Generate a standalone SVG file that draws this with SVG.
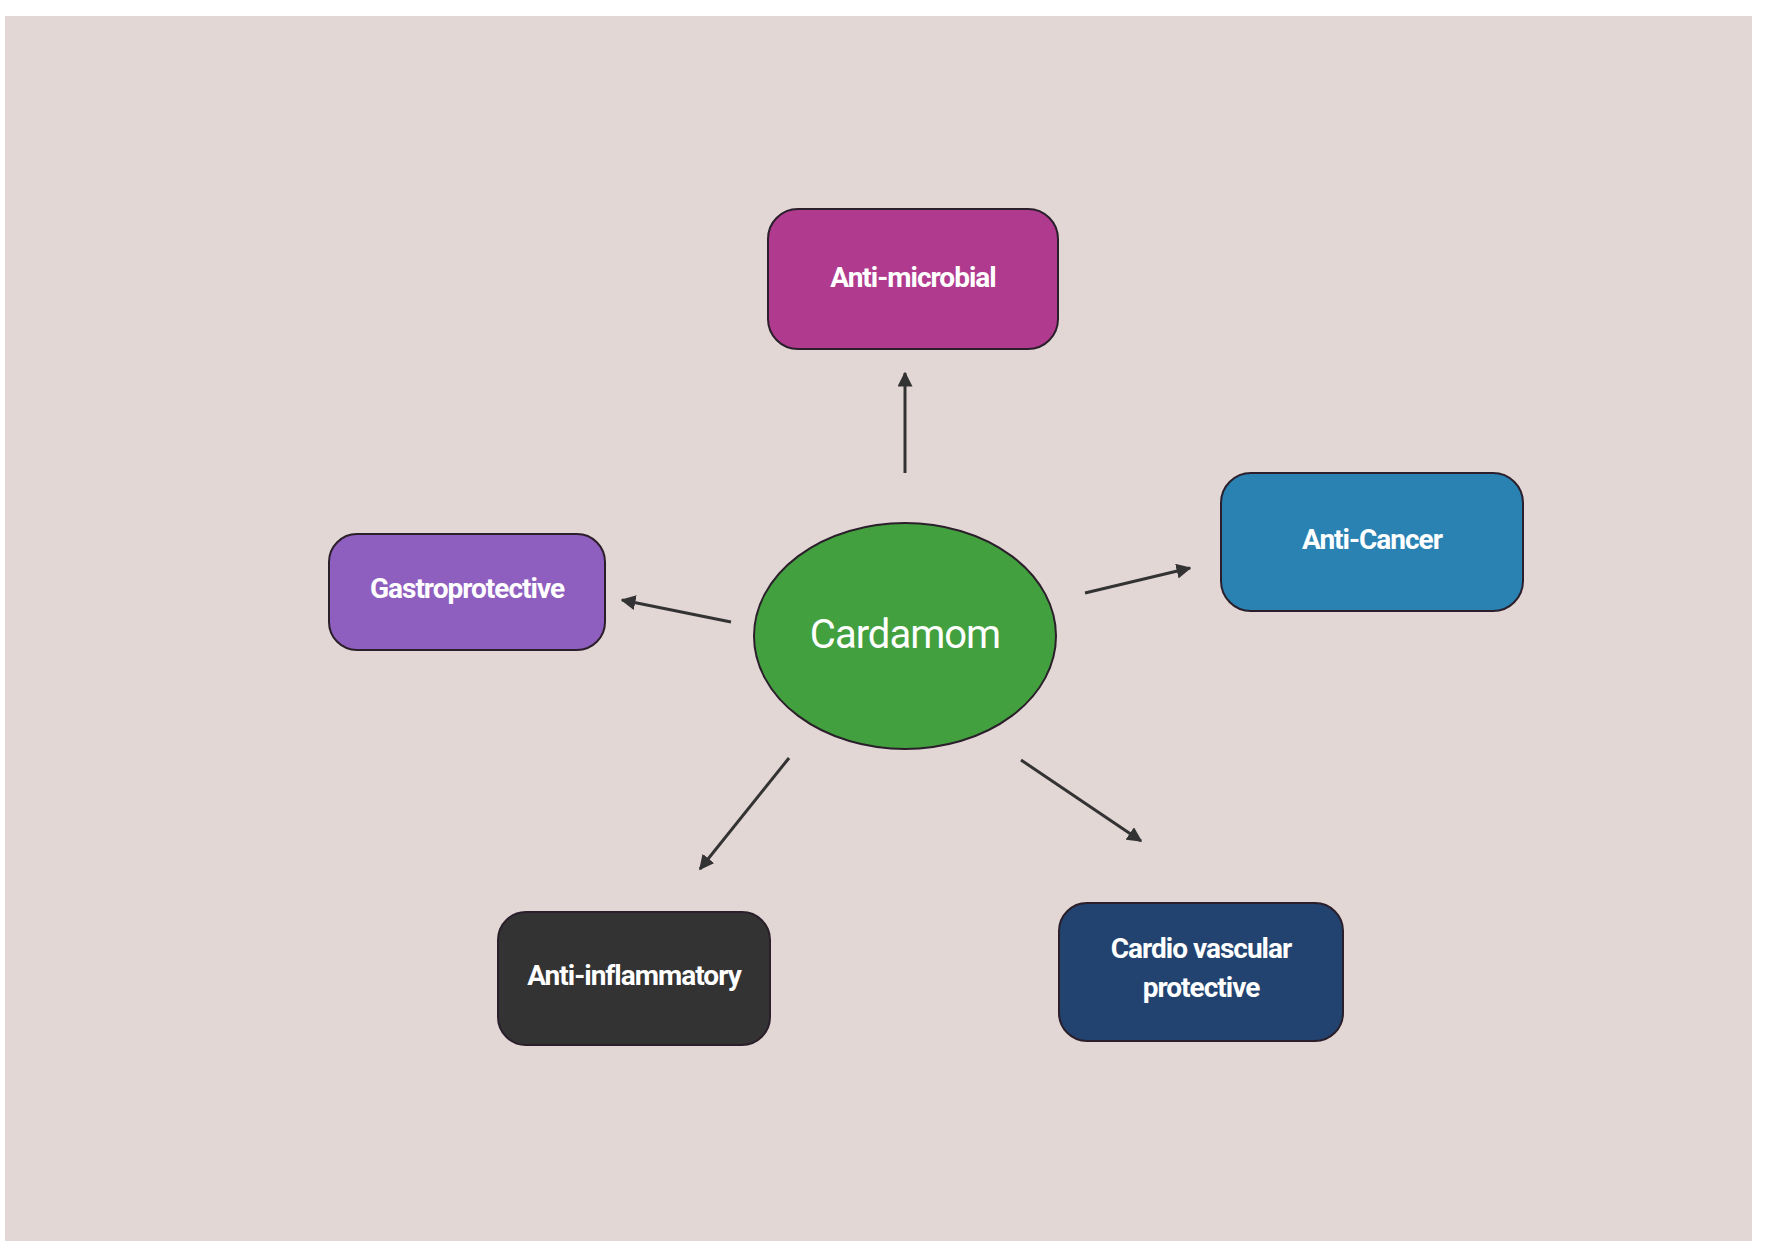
<svg xmlns="http://www.w3.org/2000/svg" width="1768" height="1244" viewBox="0 0 1768 1244">
<style>
.box{stroke:#2a1f2a;stroke-width:2}
.lbl{font-family:Roboto,"Liberation Sans",sans-serif;font-weight:bold;font-size:28px;fill:#fff;text-anchor:middle;letter-spacing:-1px}
.conn line{stroke:#333;stroke-width:3;marker-end:url(#ah)}
</style>
<defs><marker id="ah" viewBox="0 0 10 10" refX="9" refY="5" markerWidth="5" markerHeight="5" orient="auto"><path d="M0,0 L10,5 L0,10 z" fill="#333"/></marker></defs>
<rect width="1768" height="1244" fill="#fff"/>
<rect x="5" y="16" width="1747" height="1225" fill="#e3d7d6"/>
<g class="conn">
<line x1="905" y1="473" x2="905" y2="373"/>
<line x1="1085" y1="593" x2="1190" y2="568"/>
<line x1="731" y1="622" x2="622" y2="600"/>
<line x1="789" y1="758" x2="700" y2="869"/>
<line x1="1021" y1="760" x2="1141" y2="841"/>
</g>
<g id="cardamom"><ellipse cx="905" cy="636" rx="151" ry="113" fill="#43a03f" class="box"/><text x="905" y="648" class="lbl" style="font-weight:normal;font-size:40px">Cardamom</text></g>
<g id="antimicrobial"><rect x="768" y="209" width="290" height="140" rx="30" fill="#b03a8e" class="box"/><text x="913" y="287" class="lbl">Anti-microbial</text></g>
<g id="anticancer"><rect x="1221" y="473" width="302" height="138" rx="30" fill="#2a82b3" class="box"/><text x="1372" y="549" class="lbl">Anti-Cancer</text></g>
<g id="gastro"><rect x="329" y="534" width="276" height="116" rx="28" fill="#8f5fbf" class="box"/><text x="467" y="598" class="lbl">Gastroprotective</text></g>
<g id="antiinflammatory"><rect x="498" y="912" width="272" height="133" rx="28" fill="#333" class="box"/><text x="634" y="985" class="lbl">Anti-inflammatory</text></g>
<g id="cardio"><rect x="1059" y="903" width="284" height="138" rx="28" fill="#22426f" class="box"/><text x="1201" y="958" class="lbl">Cardio vascular</text><text x="1201" y="997" class="lbl">protective</text></g>
</svg>
